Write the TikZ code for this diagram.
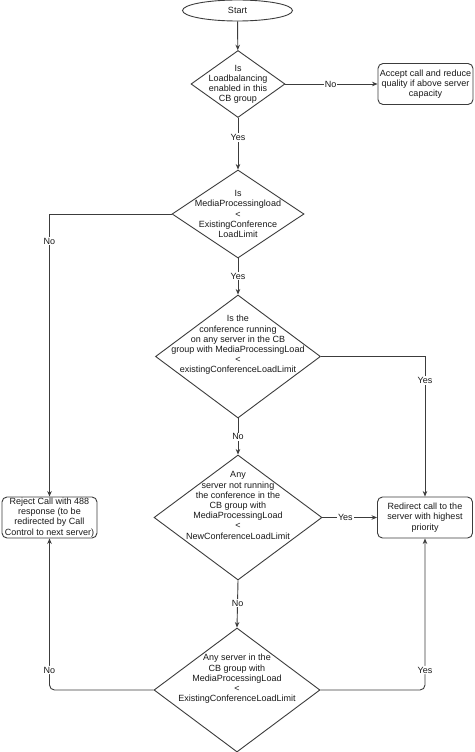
\documentclass[tikz,border=0pt]{standalone}
\usepackage{fontspec}
\setmainfont{Liberation Sans}
\usetikzlibrary{shapes.geometric,arrows.meta}
\definecolor{ln}{RGB}{60,60,60}
\definecolor{tx}{RGB}{25,25,25}
\tikzset{
  fnt/.style={font=\fontsize{9}{10.2}\selectfont},
  dia/.style={diamond, draw=ln, line width=0.9pt, inner sep=0pt},
  txt/.style={fnt, align=center, text=tx, inner sep=0pt},
  box/.style={fnt, draw=ln, line width=0.9pt, rounded corners=5pt, minimum width=95pt, minimum height=41pt, align=center, text=tx, inner sep=1pt},
  conn/.style={draw=ln, line width=0.9pt, -{Stealth[length=5.5pt,width=4.5pt]}},
  lbl/.style={fnt, fill=white, text=tx, inner sep=1pt},
}
\begin{document}
\begin{tikzpicture}[x=1pt,y=-1pt]
\useasboundingbox (0,0) rectangle (474,752);
\fill[white] (0,0) rectangle (474,752);
% shapes
\node[fnt, ellipse, draw=ln, line width=0.9pt, minimum width=110pt, minimum height=21pt, inner sep=0pt, text=tx] (start) at (237.5,10.5) {Start};
\node[dia, minimum width=94pt, minimum height=67pt] (d1) at (238,84) {};
\node[dia, minimum width=132pt, minimum height=88pt] (d2) at (238,214) {};
\node[dia, minimum width=165pt, minimum height=123pt] (d3) at (238,356.5) {};
\node[dia, minimum width=168pt, minimum height=125pt] (d4) at (238,517.5) {};
\node[dia, minimum width=166pt, minimum height=124pt] (d5) at (237,690) {};
% diamond texts
\node[txt] (t1) at (238,84.5) {Is\\Loadbalancing\\enabled in this\\CB group};
\node[txt] (t2) at (238,214) {Is\\MediaProcessingload\\<\\ExistingConference\\LoadLimit};
\node[txt] (t3) at (238,345) {Is the\\conference running\\on any server in the CB\\group with MediaProcessingLoad\\<\\existingConferenceLoadLimit};
\node[txt] (t4) at (238,505.5) {Any\\server not running\\the conference in the\\CB group with\\MediaProcessingLoad\\<\\NewConferenceLoadLimit};
\node[txt] (t5) at (237,679) {Any server in the\\CB group with\\MediaProcessingLoad\\<\\ExistingConferenceLoadLimit};
% boxes
\node[box] (accept) at (425.5,84) {Accept call and reduce\\quality if above server\\capacity};
\node[box] (reject) at (49.5,517.5) {Reject Call with 488\\response (to be\\redirected by Call\\Control to next server)};
\node[box] (redirect) at (425,517.5) {Redirect call to the\\server with highest\\priority};
% connectors
\draw[conn] (start) -- (d1);
\draw[conn] (d1.east) -- node[lbl, pos=0.49] (l1) {No} (accept.west);
\draw[conn] (d1.south) -- node[lbl, pos=0.38] (l2) {Yes} (d2.north);
\draw[conn] (d2.west) -| node[lbl, pos=0.548] (l3) {No} (reject.north);
\draw[conn] (d2.south) -- node[lbl, pos=0.49] (l4) {Yes} (d3.north);
\draw[conn] (d3.east) -| node[lbl, pos=0.586] (l5) {Yes} (redirect.north);
\draw[conn] (d3.south) -- node[lbl, pos=0.51] (l6) {No} (d4.north);
\draw[conn] (d4.east) -- node[lbl, pos=0.42] (l7) {Yes} (redirect.west);
\draw[conn] (d4.south) -- node[lbl, pos=0.48] (l8) {No} (d5.north);
\draw[conn, rounded corners=5pt] (d5.west) -| node[lbl, pos=0.566] (l9) {No} (reject.south);
\draw[conn, rounded corners=5pt] (d5.east) -| node[lbl, pos=0.566] (l10) {Yes} (redirect.south);
\end{tikzpicture}
\end{document}
